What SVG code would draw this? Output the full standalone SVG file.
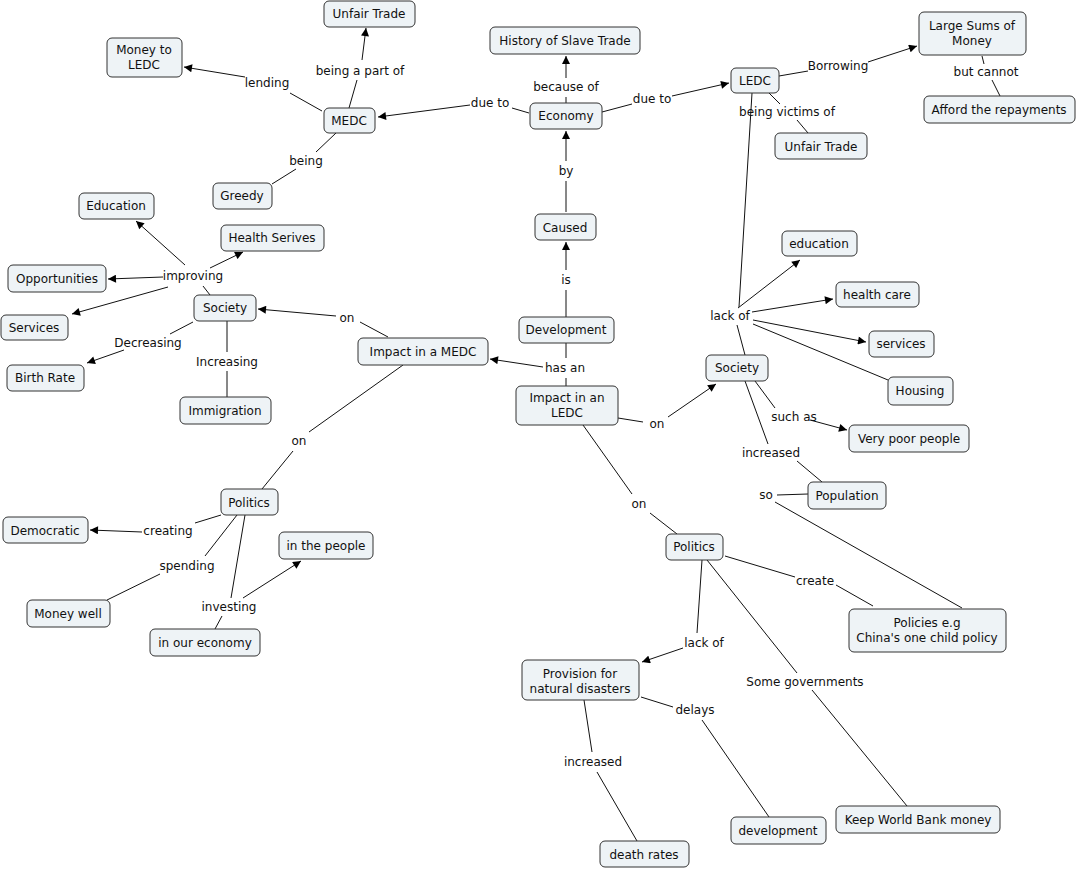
<svg xmlns="http://www.w3.org/2000/svg" width="1078" height="869" viewBox="0 0 1078 869">
<style>
.n rect{fill:#eef3f6;stroke:#333;stroke-width:1}
text{font-family:"DejaVu Sans",Verdana,sans-serif;font-size:12px;fill:#111;text-anchor:middle}
#c line{stroke:#111;stroke-width:1}
#c line.a{marker-end:url(#ar)}
</style>
<defs><marker id="ar" viewBox="0 0 10 10" refX="10" refY="5" markerWidth="10" markerHeight="8" orient="auto" markerUnits="userSpaceOnUse"><path d="M0,0L10,5L0,10z" fill="#000"/></marker></defs>
<rect width="1078" height="869" fill="#fff"/>
<g id="c">
<line x1="349" y1="108" x2="357" y2="80"/><line class="a" x1="362" y1="60" x2="366" y2="28"/>
<line x1="322" y1="111" x2="290" y2="93"/><line class="a" x1="245" y1="77" x2="184" y2="67"/>
<line x1="529" y1="113" x2="512" y2="108"/><line class="a" x1="470" y1="105" x2="378" y2="117"/>
<line x1="566" y1="103" x2="566" y2="97"/><line class="a" x1="566" y1="78" x2="566" y2="56"/>
<line x1="602" y1="112" x2="632" y2="104"/><line class="a" x1="672" y1="96" x2="729" y2="83"/>
<line x1="779" y1="76" x2="808" y2="71"/><line class="a" x1="868" y1="62" x2="917" y2="46"/>
<line x1="982" y1="56" x2="984" y2="64"/><line x1="992" y1="80" x2="1000" y2="96"/>
<line x1="769" y1="93" x2="780" y2="104"/><line x1="797" y1="120" x2="808" y2="133"/>
<line x1="336" y1="133" x2="316" y2="152"/><line x1="296" y1="169" x2="272" y2="184"/>
<line x1="566" y1="212" x2="566" y2="181"/><line class="a" x1="566" y1="161" x2="566" y2="131"/>
<line x1="566" y1="317" x2="566" y2="290"/><line class="a" x1="566" y1="270" x2="566" y2="242"/>
<line x1="566" y1="343" x2="566" y2="358"/><line x1="566" y1="386" x2="566" y2="378"/><line class="a" x1="543" y1="367" x2="490" y2="359"/>
<line x1="618" y1="418" x2="643" y2="422"/><line class="a" x1="668" y1="417" x2="716" y2="384"/>
<line x1="752" y1="93" x2="739" y2="307"/><line x1="737" y1="325" x2="745" y2="355"/>
<line class="a" x1="738" y1="308" x2="800" y2="260"/><line class="a" x1="752" y1="312" x2="833" y2="299"/>
<line class="a" x1="753" y1="320" x2="866" y2="342"/><line x1="753" y1="324" x2="888" y2="380"/>
<line x1="755" y1="381" x2="775" y2="408"/><line class="a" x1="810" y1="420" x2="847" y2="430"/>
<line x1="745" y1="381" x2="768" y2="444"/><line x1="797" y1="461" x2="822" y2="482"/>
<line x1="808" y1="494" x2="777" y2="495"/><line x1="775" y1="502" x2="962" y2="608"/>
<line x1="583" y1="425" x2="632" y2="494"/><line x1="650" y1="513" x2="677" y2="534"/>
<line x1="725" y1="556" x2="795" y2="577"/><line x1="836" y1="585" x2="873" y2="606"/>
<line x1="702" y1="560" x2="697" y2="633"/><line class="a" x1="683" y1="648" x2="642" y2="662"/>
<line x1="707" y1="560" x2="797" y2="673"/><line x1="812" y1="690" x2="907" y2="806"/>
<line x1="641" y1="697" x2="673" y2="707"/><line x1="702" y1="720" x2="769" y2="817"/>
<line x1="584" y1="700" x2="592" y2="752"/><line x1="597" y1="772" x2="637" y2="841"/>
<line x1="403" y1="365" x2="309" y2="432"/><line x1="293" y1="451" x2="262" y2="489"/>
<line x1="388" y1="337" x2="360" y2="322"/><line class="a" x1="336" y1="316" x2="258" y2="309"/>
<line x1="210" y1="295" x2="203" y2="286"/>
<line class="a" x1="185" y1="265" x2="136" y2="221"/><line class="a" x1="210" y1="268" x2="243" y2="252"/>
<line class="a" x1="163" y1="277" x2="108" y2="279"/><line class="a" x1="168" y1="287" x2="72" y2="314"/>
<line x1="193" y1="322" x2="170" y2="334"/><line class="a" x1="124" y1="350" x2="87" y2="363"/>
<line x1="227" y1="321" x2="227" y2="352"/><line x1="227" y1="371" x2="227" y2="397"/>
<line x1="221" y1="515" x2="195" y2="523"/><line class="a" x1="142" y1="532" x2="90" y2="530"/>
<line x1="237" y1="515" x2="205" y2="556"/><line x1="160" y1="574" x2="107" y2="600"/>
<line x1="245" y1="515" x2="231" y2="598"/><line class="a" x1="243" y1="598" x2="301" y2="561"/>
<line x1="222" y1="616" x2="215" y2="629"/>
</g>
<g id="labels">
<text x="360" y="75">being a part of</text><text x="267" y="87">lending</text><text x="490" y="107">due to</text>
<text x="566" y="91">because of</text><text x="652" y="103">due to</text><text x="838" y="70">Borrowing</text>
<text x="986" y="76">but cannot</text><text x="787" y="116">being victims of</text><text x="306" y="165">being</text>
<text x="566" y="175">by</text><text x="566" y="284">is</text><text x="193" y="280">improving</text>
<text x="347" y="322">on</text><text x="148" y="347">Decreasing</text><text x="227" y="366">Increasing</text>
<text x="565" y="372">has an</text><text x="730" y="320">lack of</text><text x="657" y="428">on</text>
<text x="794" y="421">such as</text><text x="771" y="457">increased</text><text x="766" y="499">so</text>
<text x="299" y="445">on</text><text x="639" y="508">on</text><text x="815" y="585">create</text>
<text x="168" y="535">creating</text><text x="187" y="570">spending</text><text x="229" y="611">investing</text>
<text x="704" y="647">lack of</text><text x="805" y="686">Some governments</text><text x="695" y="714">delays</text>
<text x="593" y="766">increased</text>
</g>
<g id="n1" class="n"><rect x="324" y="1" width="91" height="26" rx="5"/><text x="369" y="18">Unfair Trade</text></g>
<g id="n2" class="n"><rect x="107" y="38" width="75" height="39" rx="5"/><text x="144" y="54">Money to</text><text x="144" y="69">LEDC</text></g>
<g id="n3" class="n"><rect x="324" y="108" width="51" height="25" rx="5"/><text x="349" y="125">MEDC</text></g>
<g id="n4" class="n"><rect x="213" y="183" width="59" height="26" rx="5"/><text x="242" y="200">Greedy</text></g>
<g id="n5" class="n"><rect x="490" y="27" width="150" height="27" rx="5"/><text x="565" y="45">History of Slave Trade</text></g>
<g id="n6" class="n"><rect x="530" y="103" width="72" height="26" rx="5"/><text x="566" y="120">Economy</text></g>
<g id="n7" class="n"><rect x="731" y="68" width="48" height="25" rx="5"/><text x="755" y="85">LEDC</text></g>
<g id="n8" class="n"><rect x="919" y="12" width="107" height="43" rx="5"/><text x="972" y="30">Large Sums of</text><text x="972" y="45">Money</text></g>
<g id="n9" class="n"><rect x="924" y="96" width="151" height="27" rx="5"/><text x="999" y="114">Afford the repayments</text></g>
<g id="n10" class="n"><rect x="775" y="133" width="92" height="26" rx="5"/><text x="821" y="151">Unfair Trade</text></g>
<g id="n11" class="n"><rect x="535" y="214" width="61" height="26" rx="5"/><text x="565" y="232">Caused</text></g>
<g id="n12" class="n"><rect x="519" y="317" width="95" height="26" rx="5"/><text x="566" y="334">Development</text></g>
<g id="n13" class="n"><rect x="516" y="386" width="102" height="39" rx="5"/><text x="567" y="402">Impact in an</text><text x="567" y="417">LEDC</text></g>
<g id="n14" class="n"><rect x="358" y="338" width="130" height="27" rx="5"/><text x="423" y="356">Impact in a MEDC</text></g>
<g id="n15" class="n"><rect x="79" y="193" width="75" height="26" rx="5"/><text x="116" y="210">Education</text></g>
<g id="n16" class="n"><rect x="221" y="225" width="103" height="26" rx="5"/><text x="272" y="242">Health Serives</text></g>
<g id="n17" class="n"><rect x="8" y="265" width="98" height="27" rx="5"/><text x="57" y="283">Opportunities</text></g>
<g id="n18" class="n"><rect x="1" y="315" width="67" height="25" rx="5"/><text x="34" y="332">Services</text></g>
<g id="n19" class="n"><rect x="194" y="295" width="62" height="26" rx="5"/><text x="225" y="312">Society</text></g>
<g id="n20" class="n"><rect x="7" y="365" width="77" height="26" rx="5"/><text x="45" y="382">Birth Rate</text></g>
<g id="n21" class="n"><rect x="180" y="397" width="91" height="27" rx="5"/><text x="225" y="415">Immigration</text></g>
<g id="n22" class="n"><rect x="782" y="231" width="75" height="25" rx="5"/><text x="819" y="248">education</text></g>
<g id="n23" class="n"><rect x="836" y="282" width="83" height="25" rx="5"/><text x="877" y="299">health care</text></g>
<g id="n24" class="n"><rect x="869" y="331" width="65" height="26" rx="5"/><text x="901" y="348">services</text></g>
<g id="n25" class="n"><rect x="888" y="377" width="65" height="28" rx="5"/><text x="920" y="395">Housing</text></g>
<g id="n26" class="n"><rect x="706" y="355" width="62" height="26" rx="5"/><text x="737" y="372">Society</text></g>
<g id="n27" class="n"><rect x="849" y="425" width="120" height="27" rx="5"/><text x="909" y="443">Very poor people</text></g>
<g id="n28" class="n"><rect x="808" y="482" width="78" height="27" rx="5"/><text x="847" y="500">Population</text></g>
<g id="n29" class="n"><rect x="849" y="609" width="157" height="43" rx="5"/><text x="927" y="627">Policies e.g</text><text x="927" y="642">China's one child policy</text></g>
<g id="n30" class="n"><rect x="666" y="534" width="57" height="26" rx="5"/><text x="694" y="551">Politics</text></g>
<g id="n31" class="n"><rect x="522" y="660" width="117" height="40" rx="5"/><text x="580" y="678">Provision for</text><text x="580" y="693">natural disasters</text></g>
<g id="n32" class="n"><rect x="731" y="817" width="95" height="27" rx="5"/><text x="778" y="835">development</text></g>
<g id="n33" class="n"><rect x="836" y="806" width="164" height="27" rx="5"/><text x="918" y="824">Keep World Bank money</text></g>
<g id="n34" class="n"><rect x="600" y="841" width="89" height="26" rx="5"/><text x="644" y="859">death rates</text></g>
<g id="n35" class="n"><rect x="221" y="489" width="57" height="26" rx="5"/><text x="249" y="507">Politics</text></g>
<g id="n36" class="n"><rect x="3" y="517" width="85" height="26" rx="5"/><text x="45" y="535">Democratic</text></g>
<g id="n37" class="n"><rect x="279" y="532" width="94" height="27" rx="5"/><text x="326" y="550">in the people</text></g>
<g id="n38" class="n"><rect x="27" y="600" width="83" height="27" rx="5"/><text x="68" y="618">Money well</text></g>
<g id="n39" class="n"><rect x="150" y="629" width="110" height="27" rx="5"/><text x="205" y="647">in our economy</text></g>
</svg>
